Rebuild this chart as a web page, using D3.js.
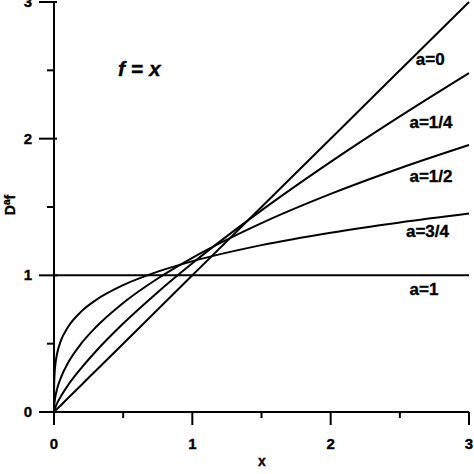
<!DOCTYPE html>
<html>
<head>
<meta charset="utf-8">
<script src="https://cdn.jsdelivr.net/npm/d3@7"></script>
<style>
  html, body { margin: 0; padding: 0; background: #fff; }
  svg text { font-family: "Liberation Sans", Arial, sans-serif; font-weight: bold; fill: #000; stroke: #000; stroke-width: 0.35px; }
</style>
</head>
<body>
<svg id="chart" width="474" height="474"></svg>
<script>
// ---- data ----
const xs      = [0, 0.001, 0.005, 0.01, 0.02, 0.05, 0.1, 0.2, 0.3, 0.5, 0.75, 1, 1.5, 2, 2.5, 3];
const yA0     = [0, 0.001, 0.005, 0.01, 0.02, 0.05, 0.1, 0.2, 0.3, 0.5, 0.75, 1, 1.5, 2, 2.5, 3];
const yA14    = [0, 0.006, 0.021, 0.034, 0.058, 0.115, 0.194, 0.325, 0.441, 0.647, 0.877, 1.088, 1.475, 1.830, 2.163, 2.480];
const yA12    = [0, 0.036, 0.080, 0.113, 0.160, 0.252, 0.357, 0.505, 0.618, 0.798, 0.977, 1.128, 1.382, 1.596, 1.784, 1.954];
const yA34    = [0, 0.196, 0.293, 0.349, 0.415, 0.522, 0.620, 0.738, 0.817, 0.928, 1.027, 1.103, 1.221, 1.312, 1.387, 1.452];
const yA1     = [1, 1, 1, 1, 1, 1, 1, 1, 1, 1, 1, 1, 1, 1, 1, 1];
const seriesNames = ["a=0", "a=1/4", "a=1/2", "a=3/4", "a=1"];
const seriesVals  = [yA0, yA14, yA12, yA34, yA1];
const labelAt     = [2.72, 2.725, 2.725, 2.70, 2.675]; // x position of each curve label (data units)
const labelY      = [2.54, 2.08, 1.68, 1.28, 0.856];  // baseline of each curve label (data units)
const xMajor = [0, 1, 2, 3];
const xMinor = [0.5, 1.5, 2.5];
const yMajor = [0, 1, 2, 3];
const yMinor = [0.5, 1.5, 2.5];

// ---- layout ----
const svg = d3.select("#chart");
const x = d3.scaleLinear().domain([0, 3]).range([54, 469]);
const y = d3.scaleLinear().domain([0, 3]).range([412, 2]);

const g = svg.append("g");

// axes lines
g.append("line").attr("x1", x(0)).attr("x2", x(3)).attr("y1", y(0)).attr("y2", y(0))
  .attr("stroke", "#000").attr("stroke-width", 2);
g.append("line").attr("x1", x(0)).attr("x2", x(0)).attr("y1", y(0)).attr("y2", y(3))
  .attr("stroke", "#000").attr("stroke-width", 2);

// x ticks
g.selectAll(".xM").data(xMajor).enter().append("line")
  .attr("x1", d => x(d)).attr("x2", d => x(d)).attr("y1", y(0)).attr("y2", y(0) + 13)
  .attr("stroke", "#000").attr("stroke-width", 2);
g.selectAll(".xm").data(xMinor).enter().append("line")
  .attr("x1", d => x(d)).attr("x2", d => x(d)).attr("y1", y(0)).attr("y2", y(0) + 6)
  .attr("stroke", "#000").attr("stroke-width", 2);
g.selectAll(".xl").data(xMajor).enter().append("text")
  .attr("x", d => x(d)).attr("y", 449).attr("text-anchor", "middle")
  .attr("font-size", 15).text(d => d);

// y ticks
g.selectAll(".yM").data(yMajor).enter().append("line")
  .attr("x1", x(0) - 15).attr("x2", x(0) + 3).attr("y1", d => y(d)).attr("y2", d => y(d))
  .attr("stroke", "#000").attr("stroke-width", 2);
g.selectAll(".ym").data(yMinor).enter().append("line")
  .attr("x1", x(0) - 7).attr("x2", x(0)).attr("y1", d => y(d)).attr("y2", d => y(d))
  .attr("stroke", "#000").attr("stroke-width", 2);
g.selectAll(".yl").data(yMajor).enter().append("text")
  .attr("x", 32).attr("y", d => y(d) + 5).attr("text-anchor", "end")
  .attr("font-size", 15).text(d => d);

// axis titles
g.append("text").attr("x", 262).attr("y", 466).attr("text-anchor", "middle")
  .attr("font-size", 14).text("x");
const yt = g.append("text").attr("transform", "translate(15,205) rotate(-90)")
  .attr("text-anchor", "middle").attr("font-size", 14);
yt.append("tspan").text("D");
yt.append("tspan").attr("dy", -5).attr("font-size", 10).text("a");
yt.append("tspan").attr("dy", 5).text("f");

// f = x annotation
g.append("text").attr("x", 118).attr("y", 76).attr("font-size", 21)
  .attr("font-style", "italic").text("f = x");

// curves
const line = d3.line().x(d => x(d[0])).y(d => y(d[1])).curve(d3.curveMonotoneX);
seriesVals.forEach((vals) => {
  g.append("path").datum(xs.map((v, i) => [v, vals[i]]))
    .attr("d", line).attr("fill", "none").attr("stroke", "#000").attr("stroke-width", 2);
});

// curve labels
seriesNames.forEach((n, i) => {
  g.append("text").attr("x", x(labelAt[i])).attr("y", y(labelY[i]))
    .attr("text-anchor", "middle").attr("font-size", 17).text(n);
});
</script>
</body>
</html>
